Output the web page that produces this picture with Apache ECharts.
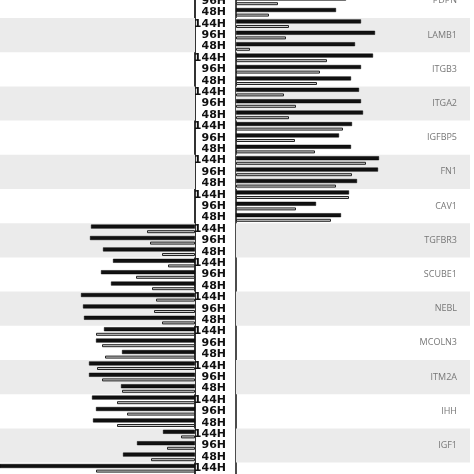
<!DOCTYPE html>
<html><head><meta charset="utf-8">
<script src="https://cdn.jsdelivr.net/npm/echarts@6/dist/echarts.min.js"></script>
<style>html,body{margin:0;padding:0;background:#fff}#c{width:474px;height:474px}</style>
</head><body><div id="c"></div>
<script>
const genes = ['PDPN','LAMB1','ITGB3','ITGA2','IGFBP5','FN1','CAV1','TGFBR3','SCUBE1','NEBL','MCOLN3','ITM2A','IHH','IGF1','...'];
const times = ['144H','96H','48H'];
// black (thick) bar values, per gene x time, negative = down
const blackVals = [
  95, 110, 100,
  125, 139, 119,
  137, 125, 115,
  123, 125, 127,
  116, 103, 115,
  143, 142, 121,
  113, 80, 105,
  -104, -105, -92,
  -82, -94, -84,
  -114, -112, -111,
  -91, -99, -73,
  -106, -106, -74,
  -103, -99, -102,
  -32, -58, -72,
  -200, -90, -80
];
// white (thin) bar values
const whiteVals = [
  50, 42, 33,
  53, 50, 14,
  91, 84, 81,
  48, 60, 53,
  107, 59, 79,
  130, 116, 100,
  113, 60, 95,
  -48, -45, -33,
  -27, -59, -43,
  -39, -41, -33,
  -99, -93, -90,
  -98, -93, -73,
  -78, -68, -78,
  -14, -28, -44,
  -99, -60, -50
];
const rows = [];
genes.forEach(g => times.forEach(t => rows.push(g + '|' + t)));
const bandL = genes.map((g,i)=> i%2 ? -195 : 0);
const bandR = genes.map((g,i)=> i%2 ? 234 : 0);
const neg = a => a.map(v => v < 0 ? v : null);
const pos = a => a.map(v => v > 0 ? v : null);
const blackStyle = {color:'#111', borderColor:'#000', borderWidth:0.5};
const whiteStyle = {color:'#cfcfcf', borderColor:'#222', borderWidth:1};
const chart = echarts.init(document.getElementById('c'));
chart.setOption({
  animation:false,
  grid:[
    {left:0, right:279, top:-16.2, height:513, outerBoundsMode:'none', containLabel:false},
    {left:236, right:4, top:-16.2, height:513, outerBoundsMode:'none', containLabel:false}
  ],
  xAxis:[
    {gridIndex:0, type:'value', min:-195, max:0, show:false},
    {gridIndex:1, type:'value', min:0, max:234, show:false}
  ],
  yAxis:[
    {gridIndex:0, type:'category', data:rows, inverse:true, position:'right',
     axisLine:{lineStyle:{color:'#333', width:2}}, axisTick:{show:false}, axisLabel:{show:false}},
    {gridIndex:0, type:'category', data:genes, inverse:true, show:false},
    {gridIndex:1, type:'category', data:rows, inverse:true, position:'left',
     axisLine:{lineStyle:{color:'#111', width:1.5}}, axisTick:{show:false},
     axisLabel:{interval:0, hideOverlap:false, formatter:v=>v.split('|')[1], fontFamily:'DejaVu Sans', fontWeight:'bold', fontSize:11, color:'#111', margin:10, align:'right'}},
    {gridIndex:1, type:'category', data:genes, inverse:true, position:'right',
     axisLine:{show:false}, axisTick:{show:false},
     axisLabel:{interval:0, inside:true, margin:13, fontFamily:'Open Sans', fontSize:9, color:'#777', formatter:v=>v==='...'?'':v}}
  ],
  series:[
    {type:'bar', xAxisIndex:0, yAxisIndex:1, data:bandL, barWidth:'100%', silent:true, z:0, itemStyle:{color:'#ebebeb'}},
    {type:'bar', xAxisIndex:1, yAxisIndex:3, data:bandR, barWidth:'100%', silent:true, z:0, itemStyle:{color:'#ebebeb'}},
    {type:'bar', xAxisIndex:0, yAxisIndex:0, data:neg(blackVals), barWidth:4, barGap:'40%', z:3, itemStyle:blackStyle},
    {type:'bar', xAxisIndex:0, yAxisIndex:0, data:neg(whiteVals), barWidth:3, z:3, itemStyle:whiteStyle},
    {type:'bar', xAxisIndex:1, yAxisIndex:2, data:pos(blackVals), barWidth:4, barGap:'40%', z:3, itemStyle:blackStyle},
    {type:'bar', xAxisIndex:1, yAxisIndex:2, data:pos(whiteVals), barWidth:3, z:3, itemStyle:whiteStyle}
  ]
});
</script></body></html>
